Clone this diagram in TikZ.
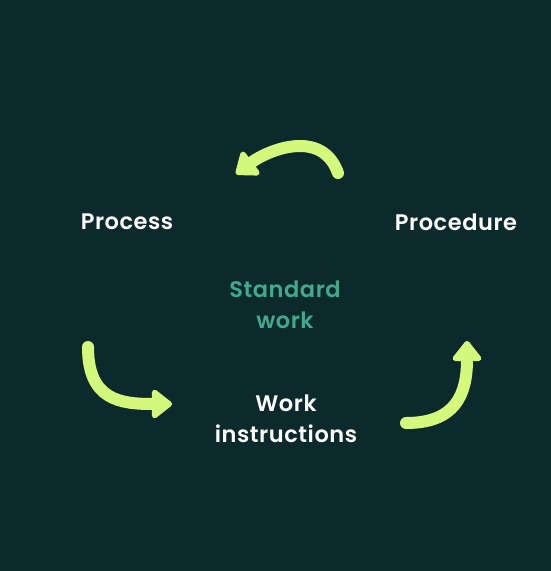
\documentclass[tikz,border=0pt]{standalone}
\usepackage{fontspec}
\setmainfont{Poppins}[BoldFont={Poppins SemiBold},LetterSpace=2.5]
\usetikzlibrary{arrows.meta}
\definecolor{bgdark}{HTML}{0C2A2B}
\definecolor{lime}{HTML}{D4F87B}
\definecolor{stdteal}{HTML}{44A88C}
\begin{document}
\begin{tikzpicture}[x=1pt,y=-1pt,
stage/.style={font=\bfseries\fontsize{22.5}{31}\selectfont,text=white,align=center,inner sep=0pt},
core/.style={stage,text=stdteal},
cycle/.style={line width=12pt,draw=lime,line cap=round,-{Triangle[length=22pt,width=33pt,round]}}
]

\fill[bgdark] (0,0) rectangle (551,571);

\node[stage] (process) at (127,222) {Process};
\node[stage] (procedure) at (456,222) {Procedure};
\node[core] (standard) at (285,305) {Standard\\work};
\node[stage] (work) at (286,419) {Work\\instructions};

% arrow ends
\coordinate (top-a) at (338,173);
\coordinate (top-b) at (236,174);
\coordinate (left-a) at (88,347);
\coordinate (left-b) at (172,404);
\coordinate (right-a) at (406,423);
\coordinate (right-b) at (467,341);

\draw[cycle] (top-a) .. controls (322,128) and (268,150) .. (top-b);
\draw[cycle] (left-a) .. controls (88,400) and (120,404) .. (left-b);
\draw[cycle] (right-a) .. controls (455,423) and (467,395) .. (right-b);

\end{tikzpicture}
\end{document}
